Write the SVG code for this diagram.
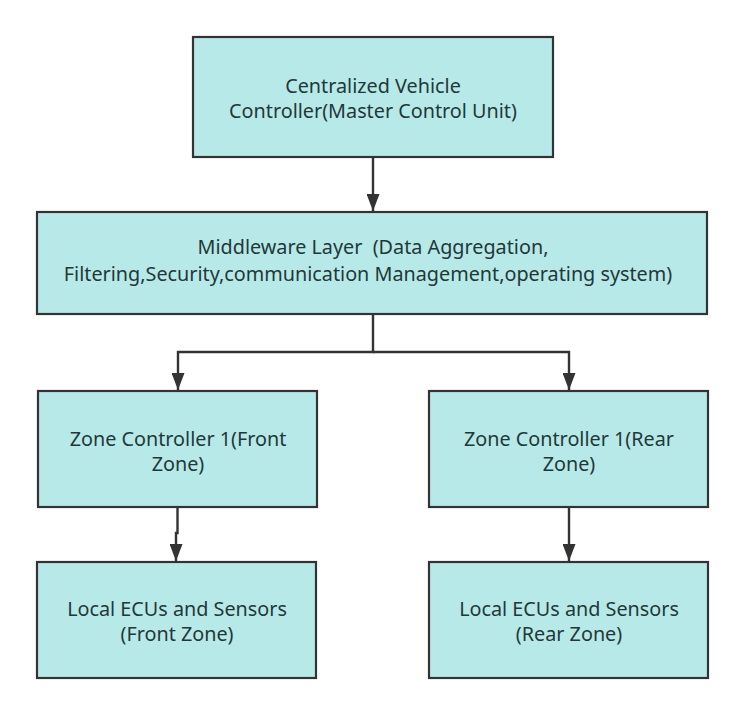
<svg xmlns="http://www.w3.org/2000/svg" width="744" height="715" viewBox="0 0 744 715">
<style>
.box{fill:#b8e9e9;stroke:#333;stroke-width:2.2}
.t{font-family:"Noto Sans","Open Sans",sans-serif;font-size:19.8px;fill:#223838;text-anchor:middle}
.c{fill:none;stroke:#333;stroke-width:2.4}
</style>
<defs>
<marker id="ah" viewBox="0 0 10 10" refX="10" refY="5" markerWidth="17" markerHeight="13" markerUnits="userSpaceOnUse" orient="auto" preserveAspectRatio="none">
<path d="M0,0 L10,5 L0,10 z" fill="#333"/>
</marker>
</defs>
<rect width="744" height="715" fill="#fff"/>
<g id="connectors">
<path class="c" d="M373,157 V211" marker-end="url(#ah)"/>
<path class="c" d="M373,314 V352 H178 V390" marker-end="url(#ah)"/>
<path class="c" d="M373,352 H569 V390" marker-end="url(#ah)"/>
<path class="c" d="M177.5,507 V533 H176 V561" marker-end="url(#ah)"/>
<path class="c" d="M569,507 V561" marker-end="url(#ah)"/>
</g>
<g id="n1">
<rect class="box" x="193" y="37" width="360" height="120"/>
<text class="t" x="373" y="93">Centralized Vehicle</text>
<text class="t" x="373" y="118">Controller(Master Control Unit)</text>
</g>
<g id="n2">
<rect class="box" x="37" y="212" width="670" height="102"/>
<text class="t" x="373" y="254" xml:space="preserve">Middleware Layer  (Data Aggregation,</text>
<text class="t" x="368" y="281">Filtering,Security,communication Management,operating system)</text>
</g>
<g id="n3">
<rect class="box" x="38" y="391" width="279" height="116"/>
<text class="t" x="178" y="446">Zone Controller 1(Front</text>
<text class="t" x="178" y="471">Zone)</text>
</g>
<g id="n4">
<rect class="box" x="429" y="391" width="279" height="116"/>
<text class="t" x="569" y="446">Zone Controller 1(Rear</text>
<text class="t" x="569" y="471">Zone)</text>
</g>
<g id="n5">
<rect class="box" x="37" y="562" width="279" height="116"/>
<text class="t" x="177" y="616">Local ECUs and Sensors</text>
<text class="t" x="177" y="641">(Front Zone)</text>
</g>
<g id="n6">
<rect class="box" x="429" y="562" width="279" height="116"/>
<text class="t" x="569" y="616">Local ECUs and Sensors</text>
<text class="t" x="569" y="641">(Rear Zone)</text>
</g>
</svg>
